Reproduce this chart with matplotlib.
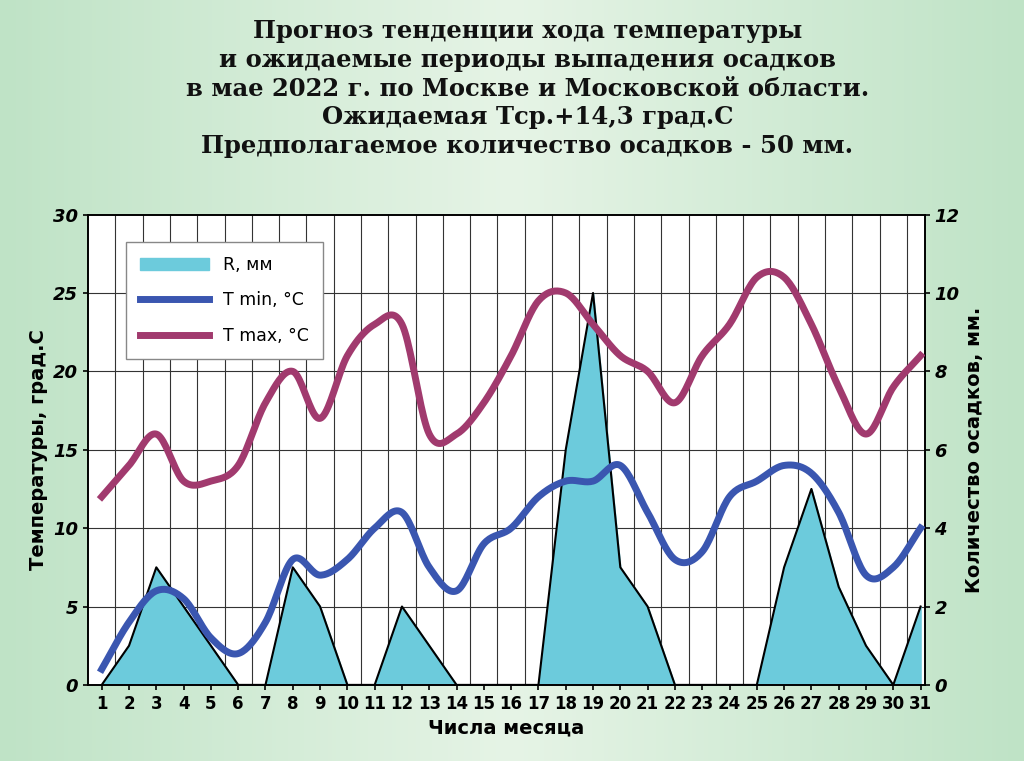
import matplotlib.pyplot as plt
import numpy as np

days = list(range(1, 32))
rain = [0, 1, 3, 2, 1, 0, 0, 3, 2, 0, 0, 2, 1, 0, 0, 0, 0, 6, 10, 3, 2, 0, 0, 0, 0, 3, 5, 2.5, 1, 0, 2]
tmin = [1, 4, 6, 5.5, 3, 2, 4, 8, 7, 8, 10, 11, 7.5, 6, 9, 10, 12, 13, 13, 14, 11, 8, 8.5, 12, 13, 14, 13.5, 11, 7, 7.5, 10]
tmax = [12, 14, 16, 13, 13, 14, 18, 20, 17, 21, 23, 23, 16, 16, 18, 21, 24.5, 25, 23, 21, 20, 18, 21, 23, 26, 26, 23, 19, 16, 19, 21]

title = ("Прогноз тенденции хода температуры\n"
         "и ожидаемые периоды выпадения осадков\n"
         "в мае 2022 г. по Москве и Московской области.\n"
         "Ожидаемая Тср.+14,3 град.С\n"
         "Предполагаемое количество осадков - 50 мм.")


def smooth(x, y, n=20):
    # catmull-rom curve through the points, only for drawing
    x = np.asarray(x, float); y = np.asarray(y, float)
    px = np.concatenate([[2*x[0]-x[1]], x, [2*x[-1]-x[-2]]])
    py = np.concatenate([[2*y[0]-y[1]], y, [2*y[-1]-y[-2]]])
    xs, ys = [], []
    t = np.linspace(0, 1, n, endpoint=False)
    for i in range(1, len(px)-2):
        for p, out in ((px, xs), (py, ys)):
            p0, p1, p2, p3 = p[i-1], p[i], p[i+1], p[i+2]
            out.extend(0.5*((2*p1) + (-p0+p2)*t + (2*p0-5*p1+4*p2-p3)*t**2 + (-p0+3*p1-3*p2+p3)*t**3))
    xs.append(x[-1]); ys.append(y[-1])
    return xs, ys


fig = plt.figure(figsize=(10.24, 7.61), dpi=100)
bg = fig.add_axes([0, 0, 1, 1], zorder=-10)
grad = np.linspace(0, 1, 256).reshape(1, -1)
bg.imshow(grad, aspect='auto', extent=[0, 1, 0, 1],
          cmap=plt.matplotlib.colors.LinearSegmentedColormap.from_list('g', ['#bfe3c6', '#e6f4e6', '#bfe3c6']))
bg.axis('off')

fig.text(0.515, 0.975, title, ha='center', va='top', fontsize=17.5, fontweight='heavy',
         family='DejaVu Serif', color='#111111', linespacing=1.25)

ax = fig.add_axes([0.086, 0.1, 0.817, 0.618])
ax.set_facecolor('white')
ax2 = ax.twinx()

ax2.fill_between(days, rain, color='#6ccbdc', label='R, мм')
ax2.plot(days, rain, color='black', lw=1.5)
ax2.set_ylim(0, 12)
ax2.set_yticks(range(0, 13, 2))

xs, ys = smooth(days, tmin)
ax.plot(xs, ys, color='#3a56b0', lw=5, label='T min, °C', zorder=5)
xs, ys = smooth(days, tmax)
ax.plot(xs, ys, color='#a13a6e', lw=5, label='T max, °C', zorder=5)
ax.set_zorder(ax2.get_zorder() + 1)
ax.patch.set_visible(False)
ax2.patch.set_visible(True)

ax.set_xlim(0.5, 31.15)
ax.set_ylim(0, 30)
ax.set_yticks(range(0, 31, 5))
ax.set_xticks(days)
for d in days[:-1]:
    ax2.axvline(d + 0.5, color='#333333', lw=0.8, zorder=0)
for v in range(5, 30, 5):
    ax2.axhline(v * 0.4, color='#333333', lw=0.8, zorder=0)

for a in (ax, ax2):
    a.tick_params(labelsize=13, width=1.2)
    for s in a.spines.values():
        s.set_linewidth(1.2)
for lab in ax.get_yticklabels() + ax2.get_yticklabels():
    lab.set_fontstyle('italic'); lab.set_fontweight('bold')
for lab in ax.get_xticklabels():
    lab.set_fontweight('bold'); lab.set_fontsize(12)

ax.set_xlabel('Числа месяца', fontsize=14, fontweight='bold')
ax.set_ylabel('Температуры, град.С', fontsize=14, fontweight='bold')
ax2.set_ylabel('Количество осадков, мм.', fontsize=14, fontweight='bold')

h1, l1 = ax2.get_legend_handles_labels()
h2, l2 = ax.get_legend_handles_labels()
leg = ax.legend(h1 + h2, l1 + l2, loc='upper left', bbox_to_anchor=(0.035, 0.96), fontsize=12.5,
                fancybox=False, edgecolor='#888888', framealpha=1, handlelength=4,
                labelspacing=1.0, borderpad=0.8)
leg.set_zorder(20)

fig.savefig('out.png', dpi=100)
